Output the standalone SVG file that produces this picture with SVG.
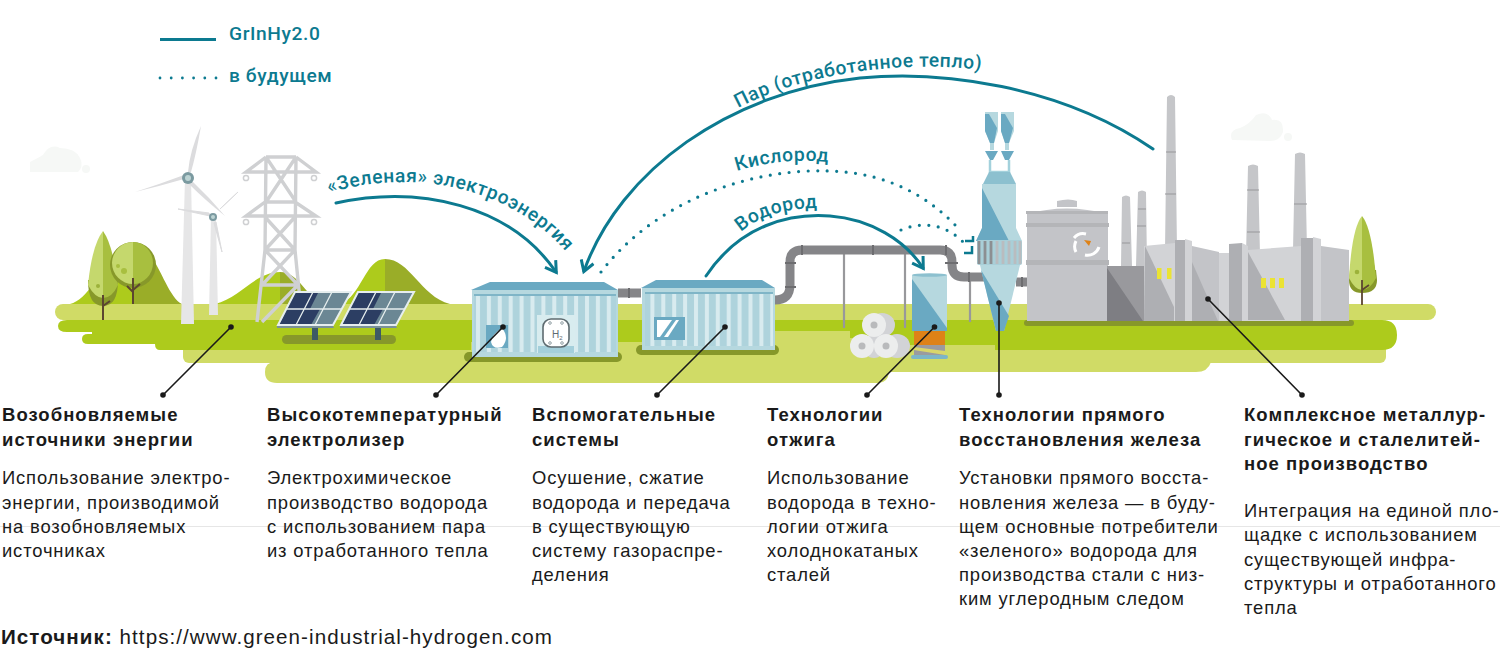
<svg xmlns="http://www.w3.org/2000/svg" xmlns:xlink="http://www.w3.org/1999/xlink" width="1500" height="648" viewBox="0 0 1500 648">
<style>
.t{font-family:"Liberation Sans",Arial,sans-serif;fill:#1a1a1a}
.h{font-size:18.5px;font-weight:700;letter-spacing:1.05px}
.b{font-size:18.4px;letter-spacing:.85px}
.teal{font-family:"Roboto","Liberation Sans",sans-serif;fill:#0c7a90;font-size:19.2px;font-weight:500;letter-spacing:.6px}
.flow{fill:none;stroke:#0c7a90;stroke-width:3;stroke-linecap:round}
.dot{fill:none;stroke:#0c7a90;stroke-width:3.2;stroke-linecap:round;stroke-dasharray:0 9.5}
.lead{stroke:#1a1a1a;stroke-width:1.6;fill:none}
.pipe{fill:none;stroke:#858588;stroke-width:9}
.joint{stroke:#6d6d70;stroke-width:2;fill:none}
.sup{stroke:#98989b;stroke-width:2.2}
.pyl{fill:none;stroke:#cfd0d2;stroke-width:3.4}
.lt{fill:#d0db66}.dk{fill:#adcb1c}.sh{fill:#87982a}
.roof{fill:#6aa9c2}.cb{fill:#b6d8df}
.ch{fill:#c5c6c9}.chl{stroke:#97979a;stroke-width:1;fill:none}
.g1{fill:#d2d3d6}.g2{fill:#aeafb3}.g3{fill:#c3c4c8}.y{fill:#ebe334}
.bl{fill:#6aa9c2}.bll{fill:#b6d8df}
</style>
<defs>
<marker id="arr" markerWidth="16" markerHeight="16" refX="12" refY="8" orient="auto" markerUnits="userSpaceOnUse"><path d="M2 1.500 L12.500 8 L2 14.500" fill="none" stroke="#0c7a90" stroke-width="3"/></marker>
<pattern id="ribs" x="474" y="0" width="10.900" height="20" patternUnits="userSpaceOnUse"><rect width="10.900" height="20" fill="#aed3dc"/><rect x="2" width="4" height="20" fill="#d8ebef"/></pattern>
<path id="lp1" d="M329 193 C 410 168, 510 185, 568 254"/>
<path id="lp2" d="M738 108 C 800 75, 900 58, 990 71"/>
<path id="lp3" d="M737 171 C 765 162, 800 158, 835 163"/>
<path id="lp4" d="M741 232 C 760 215, 790 207, 825 208"/>
</defs>
<rect width="1500" height="648" fill="#fff"/>
<path d="M0 526.500H1500" stroke="#e6e6e6" stroke-width="1"/>

<g id="clouds" fill="#f6f8f6">
<path d="M30 172 V162 Q38 158 43 155 Q50 143 60 148 Q75 148 80 158 Q84 166 78 172Z"/><circle cx="86" cy="169" r="4"/>
<path d="M1232 140 Q1228 130 1240 128 Q1250 124 1256 115 Q1268 110 1272 120 Q1284 118 1283 132 Q1280 141 1270 141Z"/><circle cx="1288" cy="137" r="4"/>
</g>

<g id="ground">
<path class="dk" d="M70 304 C 95 298, 110 243, 133 243 V304Z"/>
<path fill="#9aad28" d="M133 243 C 155 243, 165 296, 182 304 H133Z"/>
<path class="dk" d="M215 304 C 240 298, 255 272, 280 272 V304Z"/>
<path fill="#9aad28" d="M280 272 C 300 272, 305 298, 325 304 H280Z"/>
<path class="dk" d="M340 304 C 362 296, 365 259, 385 259 V304Z"/>
<path fill="#9aad28" d="M385 259 C 410 259, 420 296, 450 304 H385Z"/>
<rect class="lt" x="55" y="304" width="1381" height="16" rx="8"/>
<rect class="lt" x="183" y="325" width="1203" height="38" rx="6"/>
<path class="lt" d="M275 362 H1211 Q1208 372 1196 372 H889 Q888 383 878 383 H277 Q265 383 265 372 Q265 362 275 362Z"/>
<path class="dk" d="M67 320 H1382 Q1397 320 1397 335 Q1397 350 1382 350 H995 V345 H906 L900 338 H850 V331 H775 V342 H471 V350 H160 Q155 350 155 344 H88 Q82 344 82 339 Q82 334 88 334 H92 V332 H67 Q58 332 58 326 Q58 320 67 320Z"/>
</g>

<g id="trees">
<path class="sh" d="M88 280 Q88 306 103 306 Q118 306 118 280Z"/>
<path fill="#c5d86d" d="M103 231 Q92 245 88 285 Q95 298 103 298Z"/>
<path fill="#a8bf3f" d="M103 231 Q113 245 118 285 Q112 298 103 298Z"/>
<circle cx="98" cy="286" r="2" fill="#9cb23a"/>
<circle cx="133" cy="265" r="23" fill="#87982a"/>
<path d="M133 242 A21 21 0 0 0 133 284Z" fill="#c5d86d"/><path d="M133 242 A20 21 0 0 1 133 284Z" fill="#a8bf3f"/>
<circle cx="124" cy="271" r="3" fill="#a8bf3f"/><circle cx="118" cy="266" r="2" fill="#a8bf3f"/>
<path d="M133 304 V278 M133 292 L127 286 M133 290 L140 284 M103 320 V295 M103 306 L110 301" stroke="#5c4630" stroke-width="2" fill="none"/>
<path class="sh" d="M1349 280 Q1349 293 1362 293 Q1377 293 1377 280 L1376 270 H1350Z"/>
<path fill="#c5d86d" d="M1362 216 Q1352 228 1349 278 Q1355 290 1362 290Z"/>
<path fill="#a8bf3f" d="M1362 216 Q1372 228 1376 278 Q1370 290 1362 290Z"/>
<circle cx="1357" cy="272" r="2.300" fill="#9cb23a"/>
<path d="M1362 305 V280 M1362 290 L1369 285" stroke="#5c4630" stroke-width="1.800" fill="none"/>
</g>

<g id="turbines">
<path d="M185 178 H191 L194 324 H181Z" fill="#e6e6e7"/>
<path d="M188 172 Q190 150 201 126 Q196 155 191 172Z M184 179 Q160 186 135 192 Q160 184 184 175Z M192 181 Q210 198 225 216 Q205 200 189 184Z" fill="#dcdcde"/>
<circle cx="188" cy="178" r="6" fill="#7b9aa0"/><circle cx="188" cy="178" r="3" fill="#bcd3d3"/>
<path d="M211 217 H216 L218 315 H209Z" fill="#e6e6e7"/>
<path d="M220 209 L238 192 L221 208Z M210 216 L178 209 L209 213Z M214 223 L222 252 L216 222Z" fill="#dcdcde" stroke="#dcdcde"/>
<circle cx="213" cy="217" r="4" fill="#7b9aa0"/><circle cx="213" cy="217" r="2" fill="#bcd3d3"/>
</g>

<g id="pylon">
<path class="pyl" d="M266 157 H296 M266 157 L265 250 L257 322 M296 157 L295 250 L300 300 M266 157 L246 172 H316 L296 157 M266 157 L296 202 M296 157 L266 202 M265 202 L246 216 H316 L295 202 M265 202 H295 M265 217 L295 250 M295 217 L265 250 M265 250 H295 M265 250 L298 285 M295 250 L262 285 M262 285 H298 M298 285 L262 322"/>
<g fill="#fff" stroke="#cfd0d2" stroke-width="1.500"><circle cx="246" cy="178" r="2.600"/><circle cx="314" cy="178" r="2.600"/><circle cx="246" cy="222" r="2.600"/><circle cx="314" cy="222" r="2.600"/></g>
</g>

<g id="solar">
<rect class="sh" x="282" y="335" width="114" height="9" rx="4.500"/>
<rect x="312" y="327" width="6" height="13" fill="#3d5a66"/><rect x="375" y="327" width="6" height="13" fill="#3d5a66"/>
<path d="M295 292 H351 L333 325 H278Z M358 292 H414 L396 325 H341Z" fill="#6b8794"/>
<path d="M295 293 H318 L310 309 H320 L311 325 H279Z M358 293 H381 L373 309 H383 L374 325 H342Z" fill="#2c3e63"/>
<path d="M295 292 H351 L333 325 H278Z M358 292 H414 L396 325 H341Z" fill="none" stroke="#e6eeee" stroke-width="2"/>
<path d="M287 309 H342 M313 292 L296 325 M332 292 L315 325 M350 309 H405 M376 292 L359 325 M395 292 L378 325" stroke="#e6eeee" stroke-width="1.300" fill="none"/>
<path d="M277 326 H333 L334 328 H277Z M340 326 H396 L397 328 H340Z" fill="#7a9199"/>
</g>

<g id="pipes">
<path class="pipe" d="M618 293 H641"/>
<path class="joint" d="M629 288 V298"/>
<path class="sup" d="M844 254 V328 M905 254 V328 M970 277 V322" fill="none"/>
<path class="pipe" d="M775 300 Q790 300 790 285 V262 Q790 250 802 250 H940 Q952 250 952 262 V265 Q952 277 964 277 H985"/>
<path class="joint" d="M785 263 H796 M785 287 H796 M802 245 V255 M873 245 V255 M946 245 V255 M945 263 H958 M969 272 V282"/>
</g>

<g id="electrolyzer">
<rect class="sh" x="464" y="352" width="158" height="10" rx="5"/>
<rect class="cb" x="472" y="290" width="146" height="67"/>
<rect x="474" y="295" width="142" height="57" fill="url(#ribs)"/>
<path d="M474 295 H616" stroke="#7fb5c7" stroke-width="2"/>
<path class="roof" d="M471 290 L490 282 H604 L618 290Z"/>
<rect x="486" y="325" width="22" height="23" fill="#6aa9c2"/>
<path d="M502 328 Q510 338 502 347 Q493 350 491 342 Q492 334 502 328Z" fill="#fff"/>
<rect x="537" y="315" width="38" height="38" fill="#d8ecef"/><rect x="538" y="346" width="36" height="7" fill="#a4cfdb"/>
<rect x="543" y="319" width="26" height="28" rx="8" fill="#fff" stroke="#5e6b70" stroke-width="1.600"/>
<g fill="none" stroke="#7a8a90" stroke-width=".8"><circle cx="550" cy="323" r="1.300"/><circle cx="562" cy="323" r="1.300"/><circle cx="550" cy="343" r="1.300"/><circle cx="562" cy="343" r="1.300"/></g>
<text x="552" y="338" font-family="Liberation Sans,sans-serif" font-size="10" fill="#5e6b70">H<tspan font-size="6" dy="2">2</tspan></text>
</g>

<g id="auxiliary">
<rect class="sh" x="636" y="345" width="143" height="10" rx="5"/>
<rect class="cb" x="642" y="288" width="133" height="62"/>
<rect x="645" y="293" width="128" height="53" fill="url(#ribs)"/>
<path d="M645 293 H773" stroke="#7fb5c7" stroke-width="2"/>
<path class="roof" d="M641 288 L656 280 H762 L775 288Z"/>
<rect x="654" y="317" width="31" height="23" fill="#6aa9c2"/>
<rect x="657" y="320" width="25" height="17" fill="#fff"/>
<path d="M660 337 L672 320 H682 V337Z" fill="#6aa9c2"/><path d="M664 337 L676 320 H679 L668 337Z" fill="#fff"/>
</g>

<g id="annealing">
<g fill="#d2d3d6">
<ellipse cx="882" cy="325" rx="13" ry="12"/><ellipse cx="897" cy="346" rx="13" ry="12"/><ellipse cx="874" cy="346" rx="11" ry="12"/>
</g>
<g fill="#eceded">
<circle cx="874" cy="325" r="12"/><circle cx="862" cy="346" r="12"/><circle cx="886" cy="346" r="12"/>
</g>
<g fill="#b9babc"><circle cx="874" cy="325" r="3.500"/><circle cx="862" cy="346" r="3.500"/><circle cx="886" cy="346" r="3.500"/></g>
<rect x="914" y="330" width="31" height="16" fill="#de8217"/>
<rect x="914" y="345" width="31" height="10" fill="#9b9b9e"/>
<path d="M914 347 L945 351 V355 L914 350Z" fill="#d9d66a"/>
<rect x="911" y="355" width="37" height="4" rx="2" fill="#7db5c7"/>
<rect class="bll" x="912" y="275" width="35" height="55"/>
<path class="bl" d="M912 279 L947 328 V331 H912Z"/>
<ellipse cx="929.500" cy="275" rx="17.500" ry="1.800" fill="#8cc0cf"/>
</g>

<g id="furnace">
<path class="pipe" d="M1016 282 H1030"/><path class="joint" d="M1022 277 V287"/>
<path class="bll" d="M985 112 H998 V131 L994 143 V150 H990 V143 L985 131Z"/>
<path class="bl" d="M985 114 H989 L997 128 L994 143 H990 L985 131Z"/>
<path class="bll" d="M1001 112 H1014 V131 L1009 143 V150 H1005 V143 L1001 131Z"/>
<path class="bl" d="M1001 114 H1005 L1013 128 L1009 143 H1005 L1001 131Z"/>
<path class="bl" d="M985 151 H998 L993 160 H990Z M1001 151 H1014 L1009 160 H1005Z"/>
<path d="M990 160 V172 H1009 V160" fill="none" stroke="#a3d1dc" stroke-width="2.500"/>
<path d="M989 172 H1010 L1016 184 H983Z" fill="#8cc0cf"/>
<path class="bll" d="M982 184 H1016 V228 L1022 241 H976 L982 228Z"/>
<path class="bl" d="M982 188 L1009 241 H976 L982 228Z"/>
<rect x="977" y="240" width="45" height="25" rx="2" fill="#a9cfd8"/>
<path d="M979 241 V264 M985 241 V264 M991 241 V264" stroke="#8c8f92" stroke-width="2.800" fill="none"/>
<path d="M997 241 V264 M1003 241 V264 M1009 241 V264 M1015 241 V264 M1020 241 V264" stroke="#b9bcbf" stroke-width="2.800" fill="none"/>
<path class="bll" d="M980 265 H1020 L1004 331 H996Z"/>
<path class="bl" d="M981 270 L1009 316 L1004 331 H996Z"/>
</g>

<g id="steelworks">
<rect class="sh" x="1024" y="320" width="330" height="6" rx="3"/>
<path class="ch" d="M1122 197 Q1126 194 1130 197 L1132 266 H1121Z M1138 192 Q1142 189 1146 192 L1147 266 H1136Z M1167 97 Q1171 93 1175 97 L1177 250 H1165Z M1248 166 Q1253 163 1258 166 L1260 255 H1246Z M1295 154 Q1300 151 1305 154 L1307 250 H1293Z"/>
<path class="chl" d="M1122 243 H1130 M1138 209 H1146 M1137 226 H1146 M1166 152 H1176 M1165 194 H1176 M1247 190 H1259 M1247 232 H1260 M1294 204 H1307"/>
<path class="g3" d="M1027 214 Q1066 203 1108 214 V321 H1027Z"/>
<path class="g3" d="M1057 201 Q1069 198 1077 201 V207 H1057Z"/>
<g fill="#b4b5b8"><rect x="1026" y="211" width="82" height="3"/>
<rect x="1026" y="223" width="83" height="4"/>
<rect x="1026" y="260" width="83" height="5"/></g>
<path d="M1074 238 A12 12 0 0 1 1086 234 M1099 247 A12 12 0 0 1 1085 255 M1076 252 A12 12 0 0 1 1076 241" fill="none" stroke="#fff" stroke-width="3"/>
<path d="M1084 240 L1091 241 L1089 246Z" fill="#de8217"/>
<rect x="1107" y="266" width="37" height="55" fill="#99999d"/>
<path d="M1107 268 L1143 321 H1107Z" fill="#7e7e83"/>
<path class="g1" d="M1144 246 L1175 243 V321 H1144Z"/>
<path class="g2" d="M1145 246 L1174 307 V321 H1144Z"/>
<rect class="y" x="1157" y="268" width="4.500" height="11"/><rect class="y" x="1167" y="268" width="4.500" height="11"/>
<path class="g2" d="M1175 240 H1185 V321 H1175Z"/>
<path class="g1" d="M1185 239 L1192 241 V321 H1185Z"/>
<path class="g3" d="M1192 246 L1219 252 V321 H1192Z"/>
<path class="g2" d="M1192 262 L1218 321 H1192Z"/>
<rect class="g1" x="1219" y="253" width="11" height="68"/>
<path class="g2" d="M1229 244 L1242 243 V321 H1229Z"/>
<path class="g1" d="M1242 243 L1248 246 V321 H1242Z"/>
<path class="g1" d="M1248 250 L1301 246 V321 H1248Z"/>
<path class="g2" d="M1248 252 L1285 320 H1248Z"/>
<rect class="y" x="1261" y="278" width="5" height="10"/><rect class="y" x="1270" y="278" width="5" height="10"/><rect class="y" x="1279" y="278" width="5" height="10"/>
<path class="g2" d="M1301 238 H1313 V321 H1301Z"/>
<path class="g1" d="M1313 237 L1321 239 V321 H1313Z"/>
<path class="g3" d="M1321 246 L1349 250 V321 H1321Z"/>
</g>

<g id="connectors">
<path class="flow" marker-end="url(#arr)" d="M336 203 C 420 185, 510 205, 556 272"/>
<path class="flow" marker-end="url(#arr)" d="M1153 149 C 1060 85, 940 70, 860 78 C 730 92, 620 170, 584 271"/>
<path class="flow" marker-end="url(#arr)" d="M706 276 C 740 225, 790 213, 830 216 C 870 219, 905 240, 923 268"/>
<path class="dot" d="M601 272 C 660 195, 760 168, 830 171 C 890 173, 930 198, 958 228"/>
<path class="dot" d="M901 230 C 920 222, 945 222, 965 244"/>
<path d="M965 241 H973 V236 M964 253 H972 V246" fill="none" stroke="#0c7a90" stroke-width="2.500"/>
<g id="leaders">
<path class="lead" d="M231 327 L163 395 M503 327 L436 395 M725 327 L657 395 M934.500 327 L867 395 M999 303 V395 M1208 299 L1302 395"/>
<g fill="#1a1a1a"><circle cx="231" cy="327" r="2.800"/><circle cx="163" cy="395" r="2.800"/><circle cx="503" cy="327" r="2.800"/><circle cx="436" cy="395" r="2.800"/><circle cx="725" cy="327" r="2.800"/><circle cx="657" cy="395" r="2.800"/><circle cx="934.500" cy="327" r="2.800"/><circle cx="867" cy="395" r="2.800"/><circle cx="999" cy="303" r="2.800"/><circle cx="999" cy="395" r="2.800"/><circle cx="1208" cy="299" r="2.800"/><circle cx="1302" cy="395" r="2.800"/></g>
</g>
</g>

<g id="legend">
<path d="M160 39.500H216" stroke="#0c7a90" stroke-width="2.800"/>
<path d="M160 78H216" stroke="#0c7a90" stroke-width="2.800" stroke-linecap="round" stroke-dasharray="0 11.200"/>
<text class="teal" x="229" y="40">GrInHy2.0</text>
<text class="teal" x="229" y="82">в будущем</text>
</g>

<g id="flow-labels">
<text class="teal"><textPath xlink:href="#lp1" href="#lp1">«Зеленая» электроэнергия</textPath></text>
<text class="teal"><textPath xlink:href="#lp2" href="#lp2">Пар (отработанное тепло)</textPath></text>
<text class="teal"><textPath xlink:href="#lp3" href="#lp3">Кислород</textPath></text>
<text class="teal"><textPath xlink:href="#lp4" href="#lp4">Водород</textPath></text>
</g>

<g id="col1">
<text class="t h" x="2" y="421">Возобновляемые</text><text class="t h" x="2" y="446">источники энергии</text>
<text class="t b" x="2" y="484">Использование электро-</text><text class="t b" x="2" y="509">энергии, производимой</text><text class="t b" x="2" y="533">на возобновляемых</text><text class="t b" x="2" y="557">источниках</text>
</g>
<g id="col2">
<text class="t h" x="267" y="421">Высокотемпературный</text><text class="t h" x="267" y="446">электролизер</text>
<text class="t b" x="267" y="484">Электрохимическое</text><text class="t b" x="267" y="509">производство водорода</text><text class="t b" x="267" y="533">с использованием пара</text><text class="t b" x="267" y="557">из отработанного тепла</text>
</g>
<g id="col3">
<text class="t h" x="532" y="421">Вспомогательные</text><text class="t h" x="532" y="446">системы</text>
<text class="t b" x="532" y="484">Осушение, сжатие</text><text class="t b" x="532" y="509">водорода и передача</text><text class="t b" x="532" y="533">в существующую</text><text class="t b" x="532" y="557">систему газораспре-</text><text class="t b" x="532" y="581">деления</text>
</g>
<g id="col4">
<text class="t h" x="767" y="421">Технологии</text><text class="t h" x="767" y="446">отжига</text>
<text class="t b" x="767" y="484">Использование</text><text class="t b" x="767" y="509">водорода в техно-</text><text class="t b" x="767" y="533">логии отжига</text><text class="t b" x="767" y="557">холоднокатаных</text><text class="t b" x="767" y="581">сталей</text>
</g>
<g id="col5">
<text class="t h" x="959" y="421">Технологии прямого</text><text class="t h" x="959" y="446">восстановления железа</text>
<text class="t b" x="959" y="484">Установки прямого восста-</text><text class="t b" x="959" y="509">новления железа — в буду-</text><text class="t b" x="959" y="533">щем основные потребители</text><text class="t b" x="959" y="557">«зеленого» водорода для</text><text class="t b" x="959" y="581">производства стали с низ-</text><text class="t b" x="959" y="605">ким углеродным следом</text>
</g>
<g id="col6">
<text class="t h" x="1244" y="421">Комплексное металлур-</text><text class="t h" x="1244" y="446">гическое и сталелитей-</text><text class="t h" x="1244" y="470">ное производство</text>
<text class="t b" x="1244" y="517">Интеграция на единой пло-</text><text class="t b" x="1244" y="541">щадке с использованием</text><text class="t b" x="1244" y="566">существующей инфра-</text><text class="t b" x="1244" y="590">структуры и отработанного</text><text class="t b" x="1244" y="614">тепла</text>
</g>
<text class="t" x="1" y="644" font-size="20.6" letter-spacing="1.05"><tspan font-weight="700">Источник:</tspan> https://www.green-industrial-hydrogen.com</text>
</svg>
